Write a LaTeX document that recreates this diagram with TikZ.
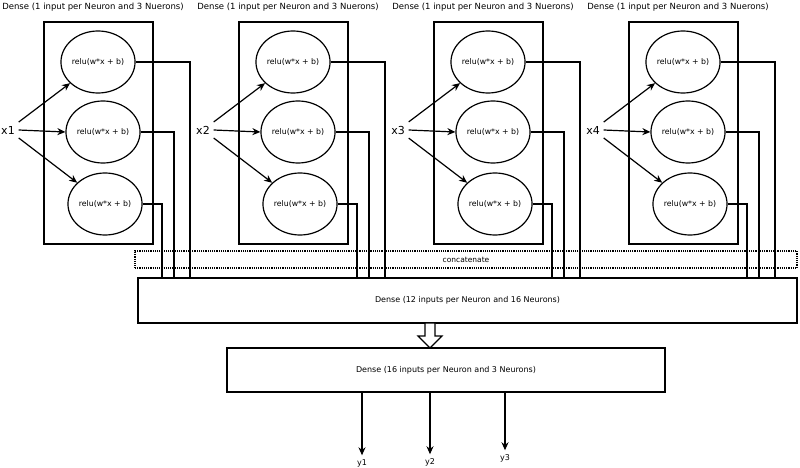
\documentclass[tikz,border=0pt]{standalone}
\usepackage{fontspec}
\setmainfont{DejaVu Sans}
\usetikzlibrary{arrows.meta,shapes.geometric}
\begin{document}
\begin{tikzpicture}[x=1pt,y=-1pt,line width=1.2pt,
  neuron/.style={draw,ellipse,minimum width=68pt,minimum height=62pt,inner sep=0pt,font=\fontsize{7.8}{9}\selectfont},
  grp/.style={draw},
  lyr/.style={draw,font=\fontsize{8}{9}\selectfont},
  arr/.style={-{Stealth[length=8pt,width=7pt]}},
  wire/.style={},
  ttl/.style={font=\fontsize{8.5}{10}\selectfont},
  inp/.style={font=\fontsize{11}{12}\selectfont}]
\useasboundingbox (0,0) rectangle (800,468);
\foreach \i/\o in {1/0,2/195,3/390,4/585}{
  \begin{scope}[xshift=\o pt]
  \node[grp,minimum width=109pt,minimum height=222pt,inner sep=0pt] (g\i) at (98.5,133) {};
  \node[ttl] (t\i) at (93,7) {Dense (1 input per Neuron and 3 Nuerons)};
  \node[neuron] (a\i) at (98,62) {relu(w*x + b)};
  \node[neuron] (b\i) at (103,132) {relu(w*x + b)};
  \node[neuron] (c\i) at (105,204) {relu(w*x + b)};
  \node[inp] (x\i) at (8,130) {x\i};
  \coordinate (pa\i) at (190,278);
  \coordinate (pb\i) at (174,278);
  \coordinate (pc\i) at (162,278);
  \end{scope}
  \draw[arr] (x\i.north east) -- (a\i);
  \draw[arr] (x\i.east) -- (b\i.west);
  \draw[arr] (x\i.south east) -- (c\i);
  \draw[wire] (a\i.east) -| (pa\i);
  \draw[wire] (b\i.east) -| (pb\i);
  \draw[wire] (c\i.east) -| (pc\i);
}
\node[draw,densely dotted,minimum width=662pt,minimum height=17pt,inner sep=0pt,font=\fontsize{7.5}{8}\selectfont] (cat) at (466,259.5) {concatenate};
\node[lyr,minimum width=659pt,minimum height=45pt,inner sep=0pt,fill=white] (d12) at (467.5,300.5) {Dense (12 inputs per Neuron and 16 Neurons)};
\node[lyr,minimum width=438pt,minimum height=44pt,inner sep=0pt] (d16) at (446,370) {Dense (16 inputs per Neuron and 3 Neurons)};
\draw[fill=white] (425,323) -- (435,323) -- (435,336) -- (442,336) -- (430,348) -- (418,336) -- (425,336) -- cycle;
\foreach \j/\xx/\yy in {1/362/463,2/430/462,3/505/458}{
  \node[font=\fontsize{8}{9}\selectfont] (y\j) at (\xx,\yy) {y\j};
  \coordinate (s\j) at (\xx,392);
  \draw[arr] (s\j) -- (y\j.north);
}
\end{tikzpicture}
\end{document}
